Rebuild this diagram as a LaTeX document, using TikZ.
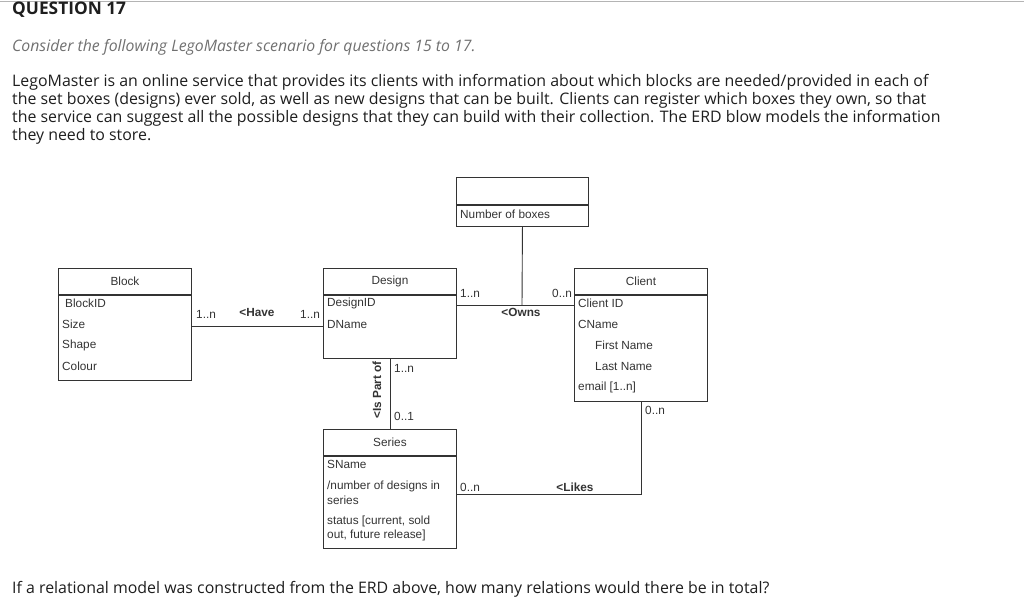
\documentclass[tikz,border=0pt]{standalone}
\usepackage{fontspec}
\setmainfont{Open Sans}
\newfontfamily\erdfont{Liberation Sans}
\usetikzlibrary{positioning}
\definecolor{ink}{HTML}{333333}
\definecolor{page}{HTML}{1E1E1E}
\definecolor{muted}{HTML}{707070}
\definecolor{rule}{HTML}{B4B4B4}
\tikzset{
  ehead/.style={draw=ink, line width=0.9pt, minimum width=133pt, minimum height=26pt, inner sep=0pt,
    font=\erdfont\fontsize{11.8}{13}\selectfont, text=ink, anchor=north west},
  ebody/.style={draw=ink, line width=0.9pt, minimum width=133pt, inner sep=0pt},
  attr/.style={anchor=west, inner sep=0pt, font=\erdfont\fontsize{11.8}{13}\selectfont, text=ink},
  rel/.style={inner sep=0pt, font=\erdfont\bfseries\fontsize{11.8}{13}\selectfont, text=ink},
  conn/.style={draw=ink, line width=0.9pt},
  para/.style={anchor=base west, inner sep=0pt, font=\fontsize{15.9}{18}\selectfont, text=page}
}
\begin{document}
\begin{tikzpicture}[x=1pt, y=-1pt]
  \useasboundingbox (0,0) rectangle (1024,611);
  \draw[rule, line width=1pt] (0,1.5) -- (1024,1.5);

  % question text
  \node[para, font=\bfseries\fontsize{17.3}{18}\selectfont] (qtitle) at (12,14) {QUESTION 17};
  \node[para, text=muted, font=\itshape\fontsize{15.8}{18}\selectfont] (qintro) at (12,51)
    {Consider the following LegoMaster scenario for questions 15 to 17.};
  \node[para] (line1) at (12,86) {LegoMaster is an online service that provides its clients with information about which blocks are needed/provided in each of};
  \node[para] (line2) at (12,104) {the set boxes (designs) ever sold, as well as new designs that can be built. Clients can register which boxes they own, so that};
  \node[para] (line3) at (12,122) {the service can suggest all the possible designs that they can build with their collection. The ERD blow models the information};
  \node[para] (line4) at (12,140) {they need to store.};
  \node[para] (qask) at (12,593) {If a relational model was constructed from the ERD above, how many relations would there be in total?};

  % entities
  \node[ehead] (blockhd) at (58,268) {Block};
  \node[ebody, minimum height=85pt, below=0pt of blockhd] (blockbd) {};
  \node[ehead] (designhd) at (323,268) {Design};
  \node[ebody, minimum height=63pt, below=0pt of designhd] (designbd) {};
  \node[ehead, minimum width=132pt, minimum height=27pt] (boxeshd) at (456,177) {};
  \node[ebody, minimum width=132pt, minimum height=21pt, below=0pt of boxeshd] (boxesbd) {};
  \node[ehead] (clienthd) at (574,268) {Client};
  \node[ebody, minimum height=106pt, below=0pt of clienthd] (clientbd) {};
  \node[ehead] (serieshd) at (323,429) {Series};
  \node[ebody, minimum height=92pt, below=0pt of serieshd] (seriesbd) {};

  % attributes
  \node[attr] (blockid) at (65,303) {BlockID};
  \node[attr] (bsize) at (62,324) {Size};
  \node[attr] (bshape) at (62,345) {Shape};
  \node[attr] (bcolour) at (62,366) {Colour};
  \node[attr] (designid) at (327,303) {DesignID};
  \node[attr] (dname) at (327,324) {DName};
  \node[attr] (nboxes) at (460,214) {Number of boxes};
  \node[attr] (clientid) at (578,303) {Client ID};
  \node[attr] (cname) at (578,324) {CName};
  \node[attr] (fname) at (595,345) {First Name};
  \node[attr] (lname) at (595,366) {Last Name};
  \node[attr] (email) at (578,387) {email [1..n]};
  \node[attr] (sname) at (327,464) {SName};
  \node[attr] (ndesigns1) at (327,486) {/number of designs in};
  \node[attr] (ndesigns2) at (327,500) {series};
  \node[attr] (status1) at (327,521) {status [current, sold};
  \node[attr] (status2) at (327,535) {out, future release]};

  % relationships
  \coordinate (have) at (257,326);
  \coordinate (owns) at (522,305);
  \coordinate (likes) at (641,494);
  \draw[conn] (have -| blockbd.east) -- (have -| designbd.west);
  \draw[conn] (owns -| designbd.east) -- (owns -| clientbd.west);
  \draw[conn] (boxesbd.south) -- (owns);
  \draw[conn] (designbd.south) -- (serieshd.north);
  \draw[conn] (likes -| seriesbd.east) -- (likes) -- (likes |- clientbd.south);

  \node[rel] (havelbl) at (257,312) {<Have};
  \node[attr] (have1) at (196,314) {1..n};
  \node[attr] (have2) at (300,314) {1..n};
  \node[rel] (ownslbl) at (521,312) {<Owns};
  \node[attr] (owns1) at (460,293) {1..n};
  \node[attr] (owns2) at (552,293) {0..n};
  \node[rel, rotate=90] (partlbl) at (377,390) {<Is Part of};
  \node[attr] (part1) at (394,368) {1..n};
  \node[attr] (part2) at (394,416) {0..1};
  \node[rel] (likeslbl) at (575,487) {<Likes};
  \node[attr] (likes1) at (460,487) {0..n};
  \node[attr] (likes2) at (645,410) {0..n};
\end{tikzpicture}
\end{document}
